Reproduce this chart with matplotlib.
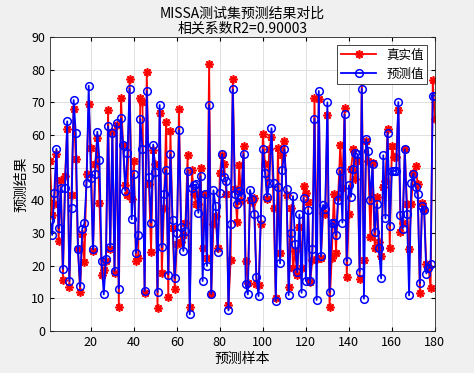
import numpy as np
import matplotlib
matplotlib.use("Agg")
from matplotlib import pyplot as plt

plt.rcParams['font.family'] = ['Noto Sans CJK SC', 'DejaVu Sans']

# 真实值 (samples 1..180)
true_vals = [
    52, 35.5, 39, 54.3, 27.5, 46.3, 15.5, 47.6, 61.7, 13.5,
    41.6, 68, 52.6, 25, 12, 29.6, 21, 48, 69.4, 56,
    24.5, 51.2, 59.2, 39.3, 17, 18.6, 21.4, 67.8, 25, 61,
    17.7, 63, 7.3, 71.4, 57, 44.7, 41.5, 77.2, 40.3, 52,
    21.4, 22.4, 71.4, 70.1, 11.7, 79.4, 44.9, 24.3, 55.3, 51,
    7.1, 66.8, 17.7, 37.6, 64, 10.5, 61.2, 31.6, 13, 26.5,
    67.9, 27.2, 29.4, 33, 53.8, 7.4, 49.2, 41.8, 39, 39,
    50, 25.5, 41.8, 22.4, 81.9, 11.4, 32.7, 35.2, 25.5, 48.5,
    53.9, 51, 41.8, 7.9, 21.6, 77.2, 43.4, 33.5, 50.7, 39.8,
    56.8, 21.4, 14.6, 40, 39.6, 40.8, 14.3, 14.1, 32.7, 60.2,
    51, 40.3, 55.8, 59.4, 37.8, 10.2, 56, 24, 53.9, 58.2,
    41.5, 13.5, 37.8, 19.2, 24.5, 17.3, 31.8, 19.4, 44.4, 42.3,
    39.5, 15.1, 21.6, 71.4, 21.9, 70.9, 22.4, 36, 35.7, 66,
    7.3, 22.2, 42.1, 24, 41.1, 57.1, 43.9, 68.4, 16.6, 35.7,
    49.7, 55.6, 46.6, 52, 16, 77.2, 21.8, 58.2, 52, 28.9,
    51.5, 25.5, 41.1, 27.3, 23, 44.2, 45.9, 61.9, 25.5, 56.8,
    53.4, 53.4, 67.7, 30.3, 33, 55.6, 39, 25.2, 39, 48.5,
    50.5, 44.9, 11.7, 39.3, 37.2, 20.4, 19.8, 13.1, 76.8, 65,
]

# 预测值
pred_vals = [
    34, 29.4, 42.4, 55.8, 31.5, 43.9, 19, 43.9, 64.2, 15.3,
    37.6, 70.7, 60.5, 25, 13.7, 31.3, 33, 45.4, 75.1, 47,
    25, 48.2, 61, 52.3, 21.4, 11.2, 21.9, 62.7, 25.7, 60.7,
    18.4, 63.6, 13, 65.1, 57, 42.9, 54.5, 74.2, 34.2, 48,
    23.9, 29.4, 65, 55.6, 12.2, 73.5, 47.2, 33.2, 57.1, 48.7,
    11.9, 69.2, 25.7, 41.8, 49.3, 17.3, 54.1, 34, 16.1, 30.1,
    61.5, 31.8, 24.5, 30.6, 49, 5.1, 43.9, 44.6, 44.9, 36.2,
    47.4, 15.3, 41.8, 19.9, 69.2, 11.4, 43.1, 38.3, 24.3, 42.3,
    54.1, 47.2, 45.9, 6.3, 32.7, 74, 41.8, 38.8, 42.9, 41.3,
    54.3, 14.3, 11.2, 43.2, 40.3, 35.9, 16.5, 10.7, 34.2, 55.6,
    48.5, 41.1, 45.4, 62.1, 45.3, 9.2, 44.1, 20.7, 49.2, 55.6,
    43.4, 11, 29.9, 41.3, 26.5, 18, 35.7, 11.7, 40.8, 15.3,
    37, 15.3, 25, 65, 9.5, 73.5, 22.9, 38.6, 37.5, 70,
    11.9, 33, 33, 29.4, 40.2, 49, 33.2, 66.3, 21.4, 44.6,
    41.1, 49.7, 54.6, 54.1, 18.2, 74.2, 9.9, 58.7, 55.1, 40,
    51, 30.3, 38.8, 25.3, 16.1, 53.8, 34.5, 60.7, 32.3, 49,
    49, 49, 70.1, 35.6, 31.3, 55.6, 35.9, 10.9, 45.2, 48.2,
    44.1, 41.8, 14.6, 38.3, 37.2, 17.6, 19.3, 20.4, 72.1, 72.1,
]

samples = np.arange(1, len(true_vals) + 1)

fig = plt.figure(figsize=(4.74, 3.73), dpi=100, facecolor='#f0f0f0')
ax = fig.add_axes([0.1055, 0.1126, 0.812, 0.788])

# MATLAB style asterisk: 8 arms
ax.plot(samples, true_vals, 'r-', marker=(8, 2, 0), linewidth=1.3,
        markersize=6, markeredgewidth=1.2, label='真实值')
ax.plot(samples, pred_vals, 'b-o', linewidth=1.3, markersize=5.5,
        markerfacecolor='none', markeredgewidth=1.1, label='预测值')

ax.set_xlim(1, 180)
ax.set_ylim(0, 90)
ax.set_xticks(np.arange(20, 181, 20))
ax.set_yticks(np.arange(0, 91, 10))
ax.tick_params(direction='in', labelsize=9, length=3, top=True, right=True,
               labeltop=False, labelright=False)
ax.grid(True, color='#dcdcdc', linewidth=0.6)
ax.set_axisbelow(True)
for s in ax.spines.values():
    s.set_color('#262626')
    s.set_linewidth(0.6)

ax.set_xlabel('预测样本', fontsize=10, labelpad=2)
ax.set_ylabel('预测结果', fontsize=10, labelpad=2)
ax.set_title('MISSA测试集预测结果对比\n相关系数R2=0.90003', fontsize=10,
             linespacing=1.1, pad=3)

leg = ax.legend(loc='upper right', fontsize=9, fancybox=False,
                edgecolor='#262626', framealpha=1, borderpad=0.3,
                handlelength=2.8, borderaxespad=0.6)
leg.get_frame().set_linewidth(0.6)

fig.savefig('out.png', dpi=100, facecolor=fig.get_facecolor())
